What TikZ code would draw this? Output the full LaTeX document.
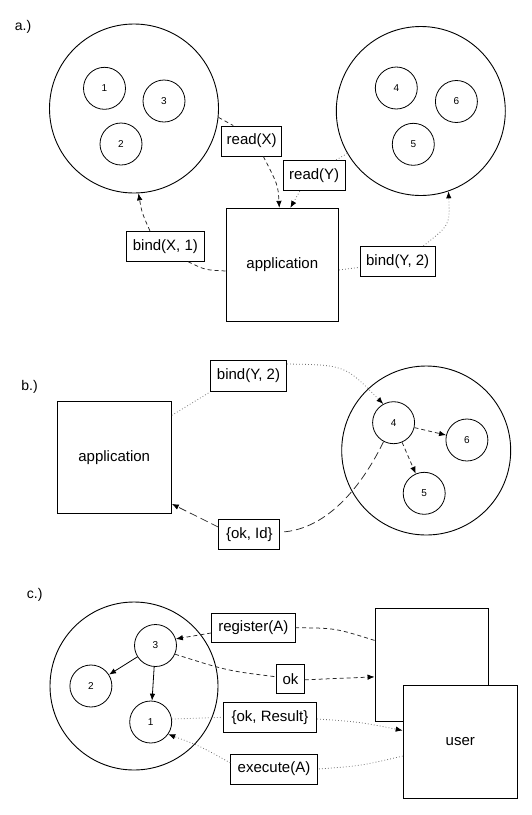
\documentclass[tikz,border=0pt]{standalone}
\usepackage{fontspec}
\setmainfont{Liberation Sans}
\usetikzlibrary{arrows.meta}
\begin{document}
\begin{tikzpicture}[x=1pt,y=-1pt,
  bigc/.style={circle,draw,line width=0.9pt,minimum size=169pt,inner sep=0pt},
  smc/.style={circle,draw,line width=0.8pt,minimum size=42pt,inner sep=0pt,font=\fontsize{10}{12}\selectfont},
  sqbox/.style={rectangle,draw,line width=0.9pt,fill=white,inner sep=0pt,font=\fontsize{15}{18}\selectfont},
  lbl/.style={rectangle,draw,line width=0.9pt,fill=white,inner sep=0pt,minimum height=30pt,font=\fontsize{15}{18}\selectfont},
  partlbl/.style={font=\fontsize{14}{17}\selectfont},
  dshl/.style={draw=black!85,line width=0.75pt,dash pattern=on 4pt off 3pt},
  ldshl/.style={draw=black!85,line width=0.75pt,dash pattern=on 8pt off 4pt},
  dotl/.style={draw=black!55,line width=0.8pt,dash pattern=on 0.8pt off 2.2pt},
  solidl/.style={draw=black,line width=0.8pt},
  arr/.style={-{Latex[length=7pt,width=5.5pt,color=black]}}]
\useasboundingbox (0,0) rectangle (532,815);
% ---------- a.)
\node[partlbl] (la) at (23,27) {a.)};
\node[bigc] (lcA) at (134,108.5) {};
\node[smc] (a1) at (104.5,88.3) {1};
\node[smc] (a3) at (164,101) {3};
\node[smc] (a2) at (121,144) {2};
\node[bigc] (rcA) at (420.8,111) {};
\node[smc] (a4) at (396.3,88) {4};
\node[smc] (a6) at (456.4,101.5) {6};
\node[smc] (a5) at (413.3,144.3) {5};
\node[lbl,minimum width=60pt] (rx) at (251.7,141) {read(X)};
\node[lbl,minimum width=61.7pt] (ry) at (314.2,175.7) {read(Y)};
\node[sqbox,minimum width=112.7pt,minimum height=113.4pt] (app) at (282.3,265) {application};
\node[lbl,minimum width=78.4pt] (bx) at (165.4,246.3) {bind(X, 1)};
\node[lbl,minimum width=75.3pt] (by) at (397.7,261.3) {bind(Y, 2)};
\draw[dshl] (lcA.-6) -- (rx.140);
\draw[dshl,arr] (rx.-53) .. controls (278,185) .. (app.93);
\draw[dotl] (rcA.-150) -- (ry.36);
\draw[dotl,arr] (ry.-133) -- (app.82);
\draw[dshl] (app.186) .. controls (205,270) .. (bx.-34);
\draw[dshl,arr] (bx.135) .. controls (142,213) .. (lcA.-87);
\draw[dotl] (app.-5) -- (by.189);
\draw[dotl,arr] (by.31) .. controls (450,225) .. (rcA.-71);
% ---------- b.)
\node[partlbl] (lb) at (29.5,386.7) {b.)};
\node[sqbox,minimum width=114.4pt,minimum height=112.3pt] (appB) at (114.2,457.2) {application};
\node[lbl,minimum width=76.3pt,minimum height=31.7pt] (bY) at (248.5,375.8) {bind(Y, 2)};
\node[bigc] (bcB) at (426.2,450.5) {};
\node[smc] (b4) at (393.6,422.7) {4};
\node[smc] (b6) at (466.9,440) {6};
\node[smc] (b5) at (424.2,493.3) {5};
\node[lbl,minimum width=61pt] (okI) at (249.4,534.3) {\{ok, Id\}};
\draw[dotl] (appB.36) -- (bY.south west);
\draw[dotl,arr] (bY.17) .. controls (345,365) .. (b4.119);
\draw[ldshl] (b4.-118) .. controls (365,480) and (330,530) .. (okI.4);
\draw[ldshl,arr] (okI.167) -- (appB.-39);
\draw[dshl,arr] (b4) -- (b6);
\draw[dshl,arr] (b4) -- (b5);
% ---------- c.)
\node[partlbl] (lc) at (34.7,595) {c.)};
\node[bigc,minimum size=168pt] (bcC) at (134,686) {};
\node[smc] (c3) at (155.5,645.5) {3};
\node[smc] (c2) at (90.9,686) {2};
\node[smc] (c1) at (150.7,722) {1};
\node[sqbox,minimum width=113.6pt,minimum height=112.7pt] (bk) at (431.8,664.7) {};
\node[sqbox,minimum width=114.4pt,minimum height=113.3pt] (usr) at (460.3,741.7) {user};
\node[lbl,minimum width=83.3pt,minimum height=29pt] (regA) at (253.3,627.8) {register(A)};
\node[lbl,minimum width=27.6pt,minimum height=29pt] (okB) at (290.5,678.8) {ok};
\node[lbl,minimum width=93.4pt] (okR) at (270,717.3) {\{ok, Result\}};
\node[lbl,minimum width=86.6pt] (exA) at (274,769) {execute(A)};
\draw[solidl,arr] (c3) -- (c2);
\draw[solidl,arr] (c3) -- (c1);
\draw[dshl] (bk.157) .. controls (335,628) .. (regA.0);
\draw[dshl,arr] (regA.187) -- (c3.18);
\draw[dshl] (c3.-24) .. controls (227.5,670.8) .. (okB.172);
\draw[dshl,arr] (okB.-4) -- (bk.192);
\draw[dotl] (c1.8) -- (okR.180);
\draw[dotl,arr] (okR.-2) .. controls (360,722) .. (usr.169);
\draw[dotl] (usr.194) .. controls (360,766) .. (exA.0);
\draw[dotl,arr] (exA.172) .. controls (200,746) .. (c1.-35);
\end{tikzpicture}
\end{document}
